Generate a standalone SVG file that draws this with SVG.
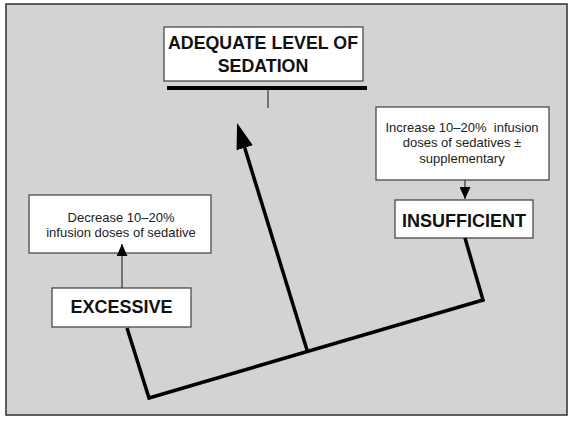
<svg xmlns="http://www.w3.org/2000/svg" width="572" height="421" viewBox="0 0 572 421">
<style>
.box{fill:#ffffff;stroke:#4a4a4a;stroke-width:1.3}
.big{font-family:"Liberation Sans",Arial,sans-serif;font-weight:bold;font-size:18px;fill:#111;text-anchor:middle}
.title{font-family:"Liberation Sans",Arial,sans-serif;font-weight:bold;font-size:17.8px;fill:#111;text-anchor:middle}
.small{font-family:"Liberation Sans",Arial,sans-serif;font-size:13px;fill:#222;text-anchor:middle}
.thick{fill:none;stroke:#000;stroke-width:3.5;stroke-linejoin:miter}
.thin{fill:none;stroke:#333;stroke-width:1.2}
</style>
<defs>
<marker id="bigHead" markerUnits="userSpaceOnUse" markerWidth="26" markerHeight="17" refX="16" refY="8.5" orient="auto">
<path d="M0,0 L26,8.5 L0,17 z" fill="#000"/>
</marker>
<marker id="smallHead" markerUnits="userSpaceOnUse" markerWidth="12" markerHeight="11" refX="12" refY="5.5" orient="auto">
<path d="M0,0 L12,5.5 L0,11 z" fill="#000"/>
</marker>
</defs>
<rect x="0" y="0" width="572" height="421" fill="#ffffff"/>
<rect x="6" y="4" width="561" height="411" fill="#d3d3d3" stroke="#3a3a3a" stroke-width="1.6"/>

<g id="adequate">
<rect class="box" x="164" y="27" width="199" height="54"/>
<text class="title" x="263" y="49">ADEQUATE LEVEL OF</text>
<text class="title" x="263" y="72">SEDATION</text>
<line x1="167" y1="88" x2="367" y2="88" stroke="#000" stroke-width="4"/>
<line x1="268" y1="90" x2="268" y2="108" stroke="#555" stroke-width="1.5"/>
</g>

<g id="increase">
<rect class="box" x="376" y="107" width="173" height="73"/>
<text class="small" x="462" y="132">Increase 10–20%&#160; infusion</text>
<text class="small" x="462" y="147">doses of sedatives ±</text>
<text class="small" x="462" y="163">supplementary</text>
</g>

<g id="insufficient">
<rect class="box" x="395" y="200" width="138" height="38"/>
<text class="big" x="464" y="227">INSUFFICIENT</text>
</g>

<g id="decrease">
<rect class="box" x="29" y="195" width="182" height="58"/>
<text class="small" x="121" y="222">Decrease 10–20%</text>
<text class="small" x="121" y="237">infusion doses of sedative</text>
</g>

<g id="excessive">
<rect class="box" x="52" y="288" width="139" height="39"/>
<text class="big" x="121.5" y="313">EXCESSIVE</text>
</g>

<g id="connectors">
<polyline class="thick" points="127,328 149,398 483,300 465,238"/>
<line class="thick" x1="307" y1="350" x2="240" y2="132.5" marker-end="url(#bigHead)"/>
<line class="thin" x1="465" y1="180" x2="465" y2="199" marker-end="url(#smallHead)"/>
<line class="thin" x1="122" y1="288" x2="122" y2="244" marker-end="url(#smallHead)"/>
</g>
</svg>
